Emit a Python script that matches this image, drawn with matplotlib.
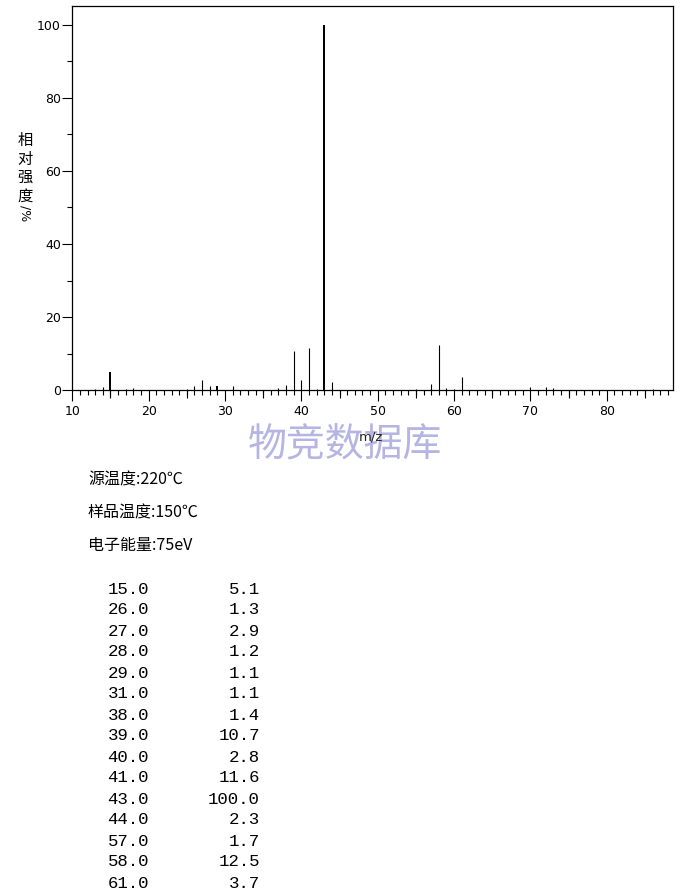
import matplotlib
matplotlib.use("Agg")
import matplotlib.pyplot as plt
import numpy as np

# ---- data ----
peak_mz = [13, 14, 15, 17, 18, 25, 26, 27, 28, 29, 31, 37, 38, 39, 40, 41, 42, 43, 44,
           55, 57, 58, 59, 60, 61, 70, 72, 73, 86]
peak_int = [0.3, 0.8, 5.1, 0.4, 0.6, 0.3, 1.3, 2.9, 1.2, 1.1, 1.1, 0.6, 1.4, 10.7, 2.8, 11.6, 0.4, 100.0, 2.3,
            0.3, 1.7, 12.5, 0.6, 0.4, 3.7, 0.8, 0.8, 0.5, 0.3]
thick_peaks = [15, 29, 43]
x_major = [10, 20, 30, 40, 50, 60, 70, 80]
y_major = [0, 20, 40, 60, 80, 100]
info_lines = ["源温度:220℃", "样品温度:150℃", "电子能量:75eV"]
ylabel_chars = "相对强度"
ylabel_tail = "/%"
watermark = "物竞数据库"

W, H = 687, 890
fig = plt.figure(figsize=(W / 100, H / 100), dpi=100)
fig.patch.set_facecolor("white")

def fx(px):
    return px / W

def fy(py):
    return 1 - py / H

left, right, top, bottom = 72.3, 673.3, 6.3, 390.3
ax = fig.add_axes([fx(left), fy(bottom), (right - left) / W, (bottom - top) / H])
ax.set_xlim(10, 88.7)
ax.set_ylim(0, 105)

lws = [1.44 if m in thick_peaks else 0.8 for m in peak_mz]
ax.vlines(peak_mz, 0, peak_int, colors="black", linewidth=lws)

for s in ax.spines.values():
    s.set_linewidth(0.9)
    s.set_color("black")

ax.set_xticks(x_major)
ax.set_xticks(np.arange(11, 89, 1), minor=True)
ax.set_yticks(y_major)
ax.set_yticks([10, 30, 50, 70, 90], minor=True)
ax.tick_params(axis="x", which="major", length=7.6, width=0.8, direction="out", pad=3,
               labelsize=9, colors="black")
ax.tick_params(axis="x", which="minor", length=3.8, width=0.8, direction="out")
ax.tick_params(axis="y", which="major", length=7.2, width=0.8, direction="out", pad=1,
               labelsize=9)
ax.tick_params(axis="y", which="minor", length=3.6, width=0.8, direction="out")
ax.tick_params(top=False, right=False)

sec = ax.secondary_xaxis("bottom")
sec.set_xticks(np.arange(15, 89, 10))
sec.tick_params(length=5.8, width=0.8, direction="out", labelbottom=False)
sec.spines["bottom"].set_visible(False)

# watermark (under the m/z label)
fig.text(fx(345), fy(445), watermark, fontsize=28, color="#b5b5e3",
         family=["Noto Sans CJK SC", "DejaVu Sans"], ha="center", va="center")
fig.text(fx(371), fy(437), "m/z", fontsize=9.5, color="#222222",
         family="DejaVu Sans", ha="center", va="center")

# y label, vertical stacked
fig.text(fx(25), fy(132), "\n".join(ylabel_chars), fontsize=11,
         family=["Noto Sans CJK SC", "DejaVu Sans"], ha="center", va="top",
         linespacing=1.12)
fig.text(fx(25), fy(213), ylabel_tail, fontsize=9, rotation=-90,
         family="DejaVu Sans", ha="center", va="center")

# info lines
for i, line in enumerate(info_lines):
    fig.text(fx(88), fy(480 + i * 32.5), line, fontsize=11.5,
             family=["Noto Sans CJK SC", "DejaVu Sans"], ha="left", va="center")

# peak table (peaks >= 1.0 %)
rows = [(m, v) for m, v in zip(peak_mz, peak_int) if v >= 1.0]
for i, (m, v) in enumerate(rows):
    y = fy(589 + i * 21)
    fig.text(fx(149), y, f"{m:.1f}", fontsize=12.5, family="Liberation Mono",
             ha="right", va="center")
    fig.text(fx(260), y, f"{v:.1f}", fontsize=12.5, family="Liberation Mono",
             ha="right", va="center")

fig.savefig("out.png", dpi=100)
